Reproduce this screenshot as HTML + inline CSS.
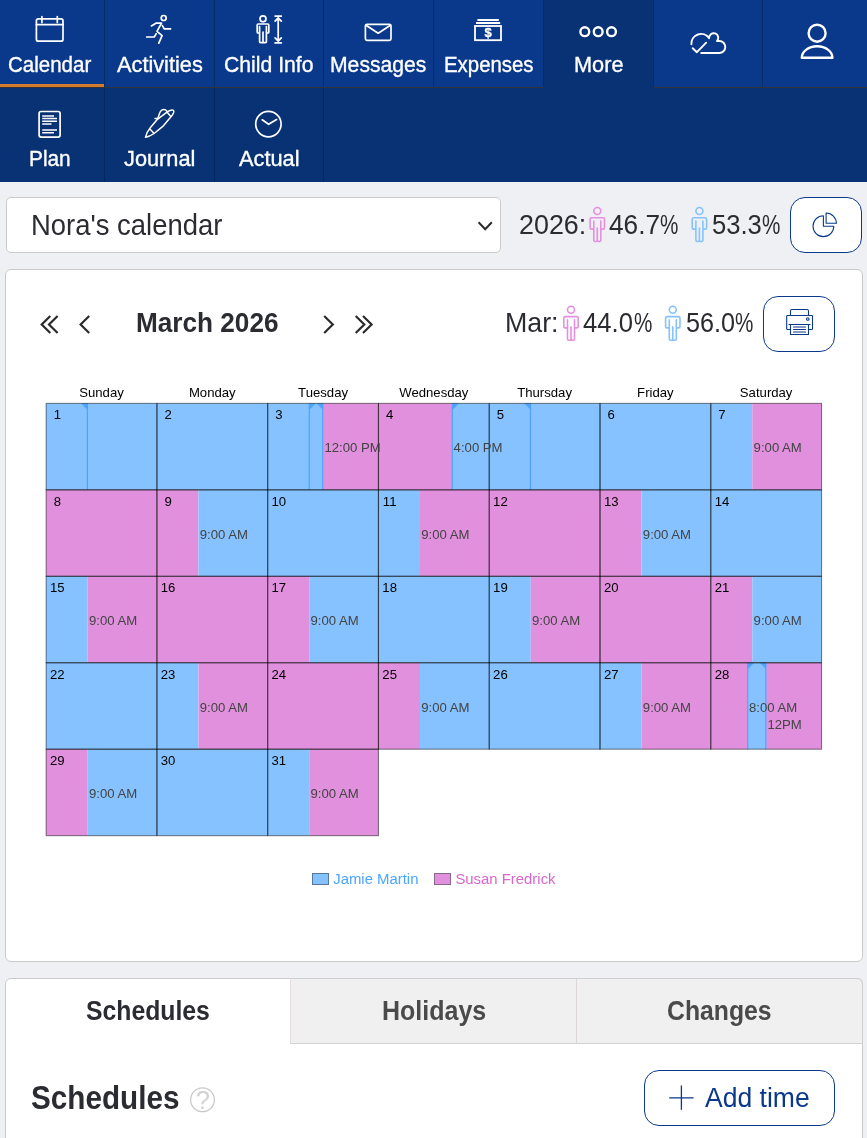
<!DOCTYPE html>
<html lang="en"><head><meta charset="utf-8"><meta name="viewport" content="width=867"><title>Nora's calendar - March 2026</title>
<style>
*{box-sizing:border-box;margin:0;padding:0}
html,body{width:867px;height:1138px;overflow:hidden;background:#eff0f3;font-family:"Liberation Sans", sans-serif}
body{position:relative}
.tx{position:absolute;white-space:nowrap;line-height:1;transform-origin:0 0;margin:0;display:block}
.abs{position:absolute}
#nav1{left:0;top:0;width:867px;height:88px;background:#0a398c;border-bottom:1px solid #333}
#nav2{left:0;top:88px;width:867px;height:94px;background:#083273}
.more{left:544px;top:0;width:109px;height:88px;background:#083273}
.vb{position:absolute;width:1px;background:#062b69}
#act{left:0;top:84px;width:104px;height:3px;background:#d37c2f}
#sel{left:6px;top:197px;width:495px;height:56px;background:#fff;border:1px solid #cbcbcb;border-radius:5px}
.btn{background:#fff;border:1px solid #0a398c;border-radius:15px;appearance:none;-webkit-appearance:none;outline:0;font:inherit}
.card{background:#fff;border:1px solid #cbcbcb;border-radius:6px}
#tabbar{left:290px;top:978px;width:573px;height:66px;background:#f0f0f0;border:1px solid #d2d2d2;border-left-color:#e4dce0;border-top-right-radius:6px;border-top-color:#cfcfcf;border-right-color:#cfcfcf}
#tabsep{left:576px;top:979px;width:1px;height:64px;background:#dcd6da}
</style></head>
<body>
<nav aria-label="Main navigation">
<div class="abs" id="nav1"></div>
<div class="abs" id="nav2"></div>
<div class="abs more"></div>
<div class="vb" style="left:104px;top:0;height:87px"></div><div class="vb" style="left:214px;top:0;height:87px"></div><div class="vb" style="left:323px;top:0;height:87px"></div><div class="vb" style="left:433px;top:0;height:87px"></div><div class="vb" style="left:543px;top:0;height:87px"></div><div class="vb" style="left:653px;top:0;height:87px"></div><div class="vb" style="left:762px;top:0;height:87px"></div><div class="vb" style="left:104px;top:88px;height:94px;background:#05275f"></div><div class="vb" style="left:214px;top:88px;height:94px;background:#05275f"></div><div class="vb" style="left:323px;top:88px;height:94px;background:#05275f"></div>
<div class="abs" id="act"></div>
<span class="tx" id="n1" style="left:7.83px;top:55.24px;font-size:21.33px;font-weight:400;color:#fff;transform:scaleX(0.9618);-webkit-text-stroke:0.35px currentColor">Calendar</span>
<span class="tx" id="n2" style="left:116.55px;top:55.24px;font-size:21.33px;font-weight:400;color:#fff;transform:scaleX(1.0196);-webkit-text-stroke:0.35px currentColor">Activities</span>
<span class="tx" id="n3" style="left:224.44px;top:55.24px;font-size:21.33px;font-weight:400;color:#fff;transform:scaleX(0.9929);-webkit-text-stroke:0.35px currentColor">Child Info</span>
<span class="tx" id="n4" style="left:330.23px;top:55.24px;font-size:21.33px;font-weight:400;color:#fff;transform:scaleX(0.9915);-webkit-text-stroke:0.35px currentColor">Messages</span>
<span class="tx" id="n5" style="left:444.03px;top:55.24px;font-size:21.33px;font-weight:400;color:#fff;transform:scaleX(0.9563);-webkit-text-stroke:0.35px currentColor">Expenses</span>
<span class="tx" id="n6" style="left:573.65px;top:55.24px;font-size:21.33px;font-weight:400;color:#fff;transform:scaleX(1.0185);-webkit-text-stroke:0.35px currentColor">More</span>
<span class="tx" id="n7" style="left:29.25px;top:148.84px;font-size:21.33px;font-weight:400;color:#fff;transform:scaleX(0.9764);-webkit-text-stroke:0.35px currentColor">Plan</span>
<span class="tx" id="n8" style="left:124.40px;top:148.84px;font-size:21.33px;font-weight:400;color:#fff;transform:scaleX(1.0198);-webkit-text-stroke:0.35px currentColor">Journal</span>
<span class="tx" id="n9" style="left:238.71px;top:148.84px;font-size:21.33px;font-weight:400;color:#fff;transform:scaleX(1.0216);-webkit-text-stroke:0.35px currentColor">Actual</span>
</nav>
<main>
<section aria-label="Calendar selection">
<div class="abs" id="sel"></div>
<button type="button" class="abs btn" aria-label="Statistics" style="left:790px;top:197px;width:72px;height:56px"></button>
<span class="tx" id="s1" style="left:30.87px;top:211.45px;font-size:29px;font-weight:400;color:#2b2c31;transform:scaleX(0.9465)">Nora's calendar</span>
<span class="tx" id="y1" style="left:518.65px;top:210.72px;font-size:27.5px;font-weight:400;color:#2b2c31;transform:scaleX(0.9775)">2026:</span>
<span class="tx" id="y2" style="left:608.88px;top:210.72px;font-size:27.5px;font-weight:400;color:#2b2c31;transform:scaleX(0.9553)">46.7</span>
<span class="tx" id="y2p" style="left:660.35px;top:210.72px;font-size:27.5px;font-weight:400;color:#2b2c31;transform:scaleX(0.7511)">%</span>
<span class="tx" id="y3" style="left:711.64px;top:210.72px;font-size:27.5px;font-weight:400;color:#2b2c31;transform:scaleX(0.9314)">53.3</span>
<span class="tx" id="y3p" style="left:761.55px;top:210.72px;font-size:27.5px;font-weight:400;color:#2b2c31;transform:scaleX(0.7511)">%</span>
</section>
<section aria-label="Calendar">
<div class="abs card" style="left:5px;top:269px;width:858px;height:693px"></div>
<button type="button" class="abs btn" aria-label="Print" style="left:763px;top:296px;width:72px;height:56px"></button>
<h1 class="tx" id="m0" style="left:135.71px;top:308.72px;font-size:27.5px;font-weight:700;color:#2b2c31;transform:scaleX(0.9510)">March 2026</h1>
<span class="tx" id="m1" style="left:505.27px;top:308.72px;font-size:27.5px;font-weight:400;color:#2b2c31;transform:scaleX(0.9736)">Mar:</span>
<span class="tx" id="m2" style="left:583.20px;top:308.72px;font-size:27.5px;font-weight:400;color:#2b2c31;transform:scaleX(0.9333)">44.0</span>
<span class="tx" id="m2p" style="left:633.75px;top:308.72px;font-size:27.5px;font-weight:400;color:#2b2c31;transform:scaleX(0.7511)">%</span>
<span class="tx" id="m3" style="left:685.65px;top:308.72px;font-size:27.5px;font-weight:400;color:#2b2c31;transform:scaleX(0.9171)">56.0</span>
<span class="tx" id="m3p" style="left:735.35px;top:308.72px;font-size:27.5px;font-weight:400;color:#2b2c31;transform:scaleX(0.7511)">%</span>
<svg id="cal" width="867" height="1138" viewBox="0 0 867 1138" style="position:absolute;left:0;top:0" font-family='"Liberation Sans", sans-serif' font-size="13.15">
<g><rect x="46.15" y="403.40" width="110.77" height="86.45" fill="#85c2ff"/><rect x="156.92" y="403.40" width="110.77" height="86.45" fill="#85c2ff"/><rect x="267.69" y="403.40" width="55.38" height="86.45" fill="#85c2ff"/><rect x="323.07" y="403.40" width="55.38" height="86.45" fill="#e090dc"/><rect x="378.46" y="403.40" width="73.85" height="86.45" fill="#e090dc"/><rect x="452.31" y="403.40" width="36.92" height="86.45" fill="#85c2ff"/><rect x="489.23" y="403.40" width="110.77" height="86.45" fill="#85c2ff"/><rect x="600.00" y="403.40" width="110.77" height="86.45" fill="#85c2ff"/><rect x="710.77" y="403.40" width="41.54" height="86.45" fill="#85c2ff"/><rect x="752.31" y="403.40" width="69.23" height="86.45" fill="#e090dc"/><rect x="46.15" y="489.85" width="110.77" height="86.45" fill="#e090dc"/><rect x="156.92" y="489.85" width="41.54" height="86.45" fill="#e090dc"/><rect x="198.46" y="489.85" width="69.23" height="86.45" fill="#85c2ff"/><rect x="267.69" y="489.85" width="110.77" height="86.45" fill="#85c2ff"/><rect x="378.46" y="489.85" width="41.54" height="86.45" fill="#85c2ff"/><rect x="420.00" y="489.85" width="69.23" height="86.45" fill="#e090dc"/><rect x="489.23" y="489.85" width="110.77" height="86.45" fill="#e090dc"/><rect x="600.00" y="489.85" width="41.54" height="86.45" fill="#e090dc"/><rect x="641.54" y="489.85" width="69.23" height="86.45" fill="#85c2ff"/><rect x="710.77" y="489.85" width="110.77" height="86.45" fill="#85c2ff"/><rect x="46.15" y="576.30" width="41.54" height="86.45" fill="#85c2ff"/><rect x="87.69" y="576.30" width="69.23" height="86.45" fill="#e090dc"/><rect x="156.92" y="576.30" width="110.77" height="86.45" fill="#e090dc"/><rect x="267.69" y="576.30" width="41.54" height="86.45" fill="#e090dc"/><rect x="309.23" y="576.30" width="69.23" height="86.45" fill="#85c2ff"/><rect x="378.46" y="576.30" width="110.77" height="86.45" fill="#85c2ff"/><rect x="489.23" y="576.30" width="41.54" height="86.45" fill="#85c2ff"/><rect x="530.77" y="576.30" width="69.23" height="86.45" fill="#e090dc"/><rect x="600.00" y="576.30" width="110.77" height="86.45" fill="#e090dc"/><rect x="710.77" y="576.30" width="41.54" height="86.45" fill="#e090dc"/><rect x="752.31" y="576.30" width="69.23" height="86.45" fill="#85c2ff"/><rect x="46.15" y="662.75" width="110.77" height="86.45" fill="#85c2ff"/><rect x="156.92" y="662.75" width="41.54" height="86.45" fill="#85c2ff"/><rect x="198.46" y="662.75" width="69.23" height="86.45" fill="#e090dc"/><rect x="267.69" y="662.75" width="110.77" height="86.45" fill="#e090dc"/><rect x="378.46" y="662.75" width="41.54" height="86.45" fill="#e090dc"/><rect x="420.00" y="662.75" width="69.23" height="86.45" fill="#85c2ff"/><rect x="489.23" y="662.75" width="110.77" height="86.45" fill="#85c2ff"/><rect x="600.00" y="662.75" width="41.54" height="86.45" fill="#85c2ff"/><rect x="641.54" y="662.75" width="69.23" height="86.45" fill="#e090dc"/><rect x="710.77" y="662.75" width="36.92" height="86.45" fill="#e090dc"/><rect x="747.69" y="662.75" width="18.46" height="86.45" fill="#85c2ff"/><rect x="766.15" y="662.75" width="55.38" height="86.45" fill="#e090dc"/><rect x="46.15" y="749.20" width="41.54" height="86.45" fill="#e090dc"/><rect x="87.69" y="749.20" width="69.23" height="86.45" fill="#85c2ff"/><rect x="156.92" y="749.20" width="110.77" height="86.45" fill="#85c2ff"/><rect x="267.69" y="749.20" width="41.54" height="86.45" fill="#85c2ff"/><rect x="309.23" y="749.20" width="69.23" height="86.45" fill="#e090dc"/></g>
<g><path d="M87.69 403.40h-6.5l6.5 6.5z" fill="#4da3ff"/><rect x="86.79" y="403.40" width="1.2" height="86.45" fill="#4da3ff"/><path d="M309.23 403.40h6.5l-6.5 6.5z" fill="#4da3ff"/><rect x="308.63" y="403.40" width="1.2" height="86.45" fill="#4da3ff"/><path d="M323.07 403.40h-6.5l6.5 6.5z" fill="#4da3ff"/><rect x="322.18" y="403.40" width="1.2" height="86.45" fill="#4da3ff"/><path d="M452.31 403.40h6.5l-6.5 6.5z" fill="#4da3ff"/><rect x="451.71" y="403.40" width="1.2" height="86.45" fill="#4da3ff"/><path d="M530.77 403.40h-6.5l6.5 6.5z" fill="#4da3ff"/><rect x="529.87" y="403.40" width="1.2" height="86.45" fill="#4da3ff"/><path d="M747.69 662.75h6.5l-6.5 6.5z" fill="#4da3ff"/><rect x="747.09" y="662.75" width="1.2" height="86.45" fill="#4da3ff"/><path d="M766.15 662.75h-6.5l6.5 6.5z" fill="#4da3ff"/><rect x="765.25" y="662.75" width="1.2" height="86.45" fill="#4da3ff"/></g>
<g fill="none" stroke="#000" stroke-opacity="0.47" stroke-width="1.1"><rect x="46.15" y="403.40" width="110.77" height="86.45"/><rect x="156.92" y="403.40" width="110.77" height="86.45"/><rect x="267.69" y="403.40" width="110.77" height="86.45"/><rect x="378.46" y="403.40" width="110.77" height="86.45"/><rect x="489.23" y="403.40" width="110.77" height="86.45"/><rect x="600.00" y="403.40" width="110.77" height="86.45"/><rect x="710.77" y="403.40" width="110.77" height="86.45"/><rect x="46.15" y="489.85" width="110.77" height="86.45"/><rect x="156.92" y="489.85" width="110.77" height="86.45"/><rect x="267.69" y="489.85" width="110.77" height="86.45"/><rect x="378.46" y="489.85" width="110.77" height="86.45"/><rect x="489.23" y="489.85" width="110.77" height="86.45"/><rect x="600.00" y="489.85" width="110.77" height="86.45"/><rect x="710.77" y="489.85" width="110.77" height="86.45"/><rect x="46.15" y="576.30" width="110.77" height="86.45"/><rect x="156.92" y="576.30" width="110.77" height="86.45"/><rect x="267.69" y="576.30" width="110.77" height="86.45"/><rect x="378.46" y="576.30" width="110.77" height="86.45"/><rect x="489.23" y="576.30" width="110.77" height="86.45"/><rect x="600.00" y="576.30" width="110.77" height="86.45"/><rect x="710.77" y="576.30" width="110.77" height="86.45"/><rect x="46.15" y="662.75" width="110.77" height="86.45"/><rect x="156.92" y="662.75" width="110.77" height="86.45"/><rect x="267.69" y="662.75" width="110.77" height="86.45"/><rect x="378.46" y="662.75" width="110.77" height="86.45"/><rect x="489.23" y="662.75" width="110.77" height="86.45"/><rect x="600.00" y="662.75" width="110.77" height="86.45"/><rect x="710.77" y="662.75" width="110.77" height="86.45"/><rect x="46.15" y="749.20" width="110.77" height="86.45"/><rect x="156.92" y="749.20" width="110.77" height="86.45"/><rect x="267.69" y="749.20" width="110.77" height="86.45"/></g>
<g><text x="57.35" y="419" fill="#000" text-anchor="middle">1</text><text x="168.12" y="419" fill="#000" text-anchor="middle">2</text><text x="278.89" y="419" fill="#000" text-anchor="middle">3</text><text x="324.38" y="452" fill="#444">12:00 PM</text><text x="389.66" y="419" fill="#000" text-anchor="middle">4</text><text x="453.61" y="452" fill="#444">4:00 PM</text><text x="500.43" y="419" fill="#000" text-anchor="middle">5</text><text x="611.20" y="419" fill="#000" text-anchor="middle">6</text><text x="721.97" y="419" fill="#000" text-anchor="middle">7</text><text x="753.61" y="452" fill="#444">9:00 AM</text><text x="57.35" y="506" fill="#000" text-anchor="middle">8</text><text x="168.12" y="506" fill="#000" text-anchor="middle">9</text><text x="199.76" y="539" fill="#444">9:00 AM</text><text x="278.89" y="506" fill="#000" text-anchor="middle">10</text><text x="389.66" y="506" fill="#000" text-anchor="middle">11</text><text x="421.30" y="539" fill="#444">9:00 AM</text><text x="500.43" y="506" fill="#000" text-anchor="middle">12</text><text x="611.20" y="506" fill="#000" text-anchor="middle">13</text><text x="642.84" y="539" fill="#444">9:00 AM</text><text x="721.97" y="506" fill="#000" text-anchor="middle">14</text><text x="57.35" y="592" fill="#000" text-anchor="middle">15</text><text x="88.99" y="625" fill="#444">9:00 AM</text><text x="168.12" y="592" fill="#000" text-anchor="middle">16</text><text x="278.89" y="592" fill="#000" text-anchor="middle">17</text><text x="310.53" y="625" fill="#444">9:00 AM</text><text x="389.66" y="592" fill="#000" text-anchor="middle">18</text><text x="500.43" y="592" fill="#000" text-anchor="middle">19</text><text x="532.07" y="625" fill="#444">9:00 AM</text><text x="611.20" y="592" fill="#000" text-anchor="middle">20</text><text x="721.97" y="592" fill="#000" text-anchor="middle">21</text><text x="753.61" y="625" fill="#444">9:00 AM</text><text x="57.35" y="679" fill="#000" text-anchor="middle">22</text><text x="168.12" y="679" fill="#000" text-anchor="middle">23</text><text x="199.76" y="712" fill="#444">9:00 AM</text><text x="278.89" y="679" fill="#000" text-anchor="middle">24</text><text x="389.66" y="679" fill="#000" text-anchor="middle">25</text><text x="421.30" y="712" fill="#444">9:00 AM</text><text x="500.43" y="679" fill="#000" text-anchor="middle">26</text><text x="611.20" y="679" fill="#000" text-anchor="middle">27</text><text x="642.84" y="712" fill="#444">9:00 AM</text><text x="721.97" y="679" fill="#000" text-anchor="middle">28</text><text x="748.99" y="712" fill="#444">8:00 AM</text><text x="767.45" y="729" fill="#444">12PM</text><text x="57.35" y="765" fill="#000" text-anchor="middle">29</text><text x="88.99" y="798" fill="#444">9:00 AM</text><text x="168.12" y="765" fill="#000" text-anchor="middle">30</text><text x="278.89" y="765" fill="#000" text-anchor="middle">31</text><text x="310.53" y="798" fill="#444">9:00 AM</text><text x="101.53" y="396.8" text-anchor="middle" fill="#000">Sunday</text><text x="212.31" y="396.8" text-anchor="middle" fill="#000">Monday</text><text x="323.07" y="396.8" text-anchor="middle" fill="#000">Tuesday</text><text x="433.84" y="396.8" text-anchor="middle" fill="#000">Wednesday</text><text x="544.62" y="396.8" text-anchor="middle" fill="#000">Thursday</text><text x="655.38" y="396.8" text-anchor="middle" fill="#000">Friday</text><text x="766.15" y="396.8" text-anchor="middle" fill="#000">Saturday</text></g>
<g shape-rendering="crispEdges"><rect x="312.5" y="873.5" width="16" height="11" rx="1" fill="#85c2ff" stroke="#58779a" stroke-width="1"/>
<rect x="434.5" y="873.5" width="16" height="11" rx="1" fill="#e090dc" stroke="#8a6a8c" stroke-width="1"/></g>
<text x="333.2" y="884" font-size="14.9" fill="#4da6ff">Jamie Martin</text>
<text x="455.4" y="884" font-size="14.9" fill="#d966cf">Susan Fredrick</text>
</svg>
</section>
<section aria-label="Schedules">
<div class="abs card" style="left:5px;top:978px;width:858px;height:200px"></div>
<div class="abs" id="tabbar"></div>
<div class="abs" id="tabsep"></div>
<button type="button" class="abs btn" aria-label="Add time" style="left:644px;top:1070px;width:191px;height:56px"></button>
<span class="tx" id="t1" style="left:85.87px;top:996.72px;font-size:27.5px;font-weight:700;color:#2b2c31;transform:scaleX(0.9001)">Schedules</span>
<span class="tx" id="t2" style="left:381.60px;top:996.72px;font-size:27.5px;font-weight:700;color:#4a4a4a;transform:scaleX(0.9089)">Holidays</span>
<span class="tx" id="t3" style="left:666.75px;top:996.72px;font-size:27.5px;font-weight:700;color:#4a4a4a;transform:scaleX(0.9006)">Changes</span>
<h2 class="tx" id="h1" style="left:31.38px;top:1080.73px;font-size:33.4px;font-weight:700;color:#2b2c31;transform:scaleX(0.8890)">Schedules</h2>
<span class="tx" id="a1" style="left:705.12px;top:1083.72px;font-size:27.5px;font-weight:400;color:#0a398c;transform:scaleX(0.9647)">Add time</span>
</section>
</main>
<svg id="icons" width="867" height="1138" viewBox="0 0 867 1138" style="position:absolute;left:0;top:0" fill="none" stroke-linecap="round" stroke-linejoin="round">
<!-- nav row 1 -->
<g stroke="#fff" stroke-width="1.7">
  <!-- calendar -->
  <rect x="36.4" y="18.8" width="26.6" height="22.4" rx="2"/>
  <path d="M36.4 24.6H63M41.9 16.6v5.8M57.3 16.6v5.8"/>
  <!-- runner -->
  <circle cx="163.7" cy="18" r="2.5"/>
  <path d="M151.4 25.9l4.5-2.7h5.6l-4.5 8.2 5.1 4.3-3.3 7.4M162.4 25.6l1.8 3.2h6.4M156.2 33.8l-2 3.2h-7.5"/>
  <!-- child info -->
  <circle cx="263" cy="18.8" r="3"/>
  <path d="M259.6 33h-1.4a1 1 0 0 1-1-1v-7a1 1 0 0 1 1-1h9.6a1 1 0 0 1 1 1v7a1 1 0 0 1-1 1h-1.4M259.6 26.6v15.2a.9.9 0 0 0 .9.9h1.6a.9.9 0 0 0 .9-.9v-9.8M266.4 26.6v15.2a.9.9 0 0 1-.9.9h-1.6a.9.9 0 0 1-.9-.9"/>
  <path d="M275.1 16.1h6.2M275.1 42.9h6.2M278.2 17.9v23.2M275.1 21.2l3.1-3.3 3.1 3.3M275.1 37.8l3.1 3.3 3.1-3.3"/>
  <!-- envelope -->
  <rect x="365.4" y="24.3" width="25.6" height="16" rx="1.6"/>
  <path d="M366 25.2l12.2 8 12.2-8"/>
  <!-- expenses -->
  <g stroke-width="1.8" stroke-linecap="butt" stroke-linejoin="miter">
  <path d="M477.4 20h21.4M476 23h24.2"/>
  <rect x="475" y="26" width="26" height="14.2"/>
  </g>
  <!-- more -->
  <g stroke-width="2.4">
  <circle cx="584.8" cy="31.7" r="4.4"/><circle cx="598.2" cy="31.7" r="4.4"/><circle cx="611.5" cy="31.7" r="4.4"/>
  </g>
  <!-- cloud -->
  <path stroke-width="1.9" d="M691.4 44.3A9.7 9.7 0 0 1 709.1 38.2A4.6 4.6 0 1 1 717 41H719.3A6 6 0 0 1 719.3 53H701.2M692.7 48.2l4.2 4 9.3-9.5"/>
  <!-- user -->
  <g stroke-width="2.4">
  <circle cx="817.1" cy="33.2" r="8.5"/>
  <path d="M801.8 57.8a15.3 11.6 0 0 1 30.6 0z"/>
  </g>
</g>
<text x="488.2" y="37.4" font-family='"Liberation Sans", sans-serif' font-size="13" font-weight="700" fill="#fff" text-anchor="middle" stroke="#fff" stroke-width="0.3">$</text>
<!-- nav row 2 -->
<g stroke="#fff" stroke-width="1.7">
  <rect x="39.1" y="111.5" width="21" height="25.6" rx="2"/>
  <g stroke-width="1.5" stroke-linecap="butt"><path d="M42.2 115.9H54M42.2 118.6H57M42.2 121.3H57M42.2 124H51.5M42.2 129.9H57M42.2 132.7H54"/></g>
  <!-- pen -->
  <g stroke-width="1.5">
  <path d="M145.5 137.3C146.2 134 147.8 130.8 150.3 127.8L157.4 119.3L167.3 111.9C169.6 110.4 172.3 109.7 173.5 110.4C174.2 111.6 173.3 113.9 171.6 116.1L162.8 126.4L154.1 133.5C151 135.6 148.6 136.8 145.5 137.3Z"/>
  <path d="M150.4 129.6l3 3.2M167.2 112.2l3.4 4M155 118.6h2.8l1.6-4.8c.8-2.4 2.8-4.2 4.4-4.2c1.2 0 2.4.6 3 1.6"/>
  </g>
  <!-- clock -->
  <circle cx="268.4" cy="124.1" r="12.7"/>
  <path d="M262.2 119.8l6.4 4.5 8-4.7"/>
</g>
<!-- chevrons -->
<g stroke="#2b2b2b" stroke-width="2.2" stroke-linecap="butt" stroke-linejoin="miter">
  <path d="M478.6 222.3l6.6 6.9 6.6-6.9" stroke-width="2"/>
  <path d="M50.3 316l-8.6 8.5 8.6 8.5M57.6 316l-8.6 8.5 8.6 8.5M89.2 316l-8.6 8.5 8.6 8.5"/>
  <path d="M324.2 316l8.6 8.5-8.6 8.5M355.7 316l8.6 8.5-8.6 8.5M363 316l8.6 8.5-8.6 8.5"/>
</g>
<!-- person icons -->
<g transform="translate(597.3 217.1)" stroke="#e58fdf" stroke-width="1.6"><circle cx="0" cy="-6.1" r="3.5"/><path d="M-3.5 12h-2.3a1.4 1.4 0 0 1-1.4-1.4v-8.3a1.6 1.6 0 0 1 1.6-1.6h11.2a1.6 1.6 0 0 1 1.6 1.6v8.3a1.4 1.4 0 0 1-1.4 1.4h-2.3M-3.5 4v19.2a1.2 1.2 0 0 0 1.2 1.2h1.1a1.2 1.2 0 0 0 1.2-1.2v-12.2M3.5 4v19.2a1.2 1.2 0 0 1-1.2 1.2h-1.1a1.2 1.2 0 0 1-1.2-1.2"/></g>
<g transform="translate(699.4 217.1)" stroke="#85c2ff" stroke-width="1.6"><circle cx="0" cy="-6.1" r="3.5"/><path d="M-3.5 12h-2.3a1.4 1.4 0 0 1-1.4-1.4v-8.3a1.6 1.6 0 0 1 1.6-1.6h11.2a1.6 1.6 0 0 1 1.6 1.6v8.3a1.4 1.4 0 0 1-1.4 1.4h-2.3M-3.5 4v19.2a1.2 1.2 0 0 0 1.2 1.2h1.1a1.2 1.2 0 0 0 1.2-1.2v-12.2M3.5 4v19.2a1.2 1.2 0 0 1-1.2 1.2h-1.1a1.2 1.2 0 0 1-1.2-1.2"/></g>
<g transform="translate(571 315.9)" stroke="#e58fdf" stroke-width="1.6"><circle cx="0" cy="-6.1" r="3.5"/><path d="M-3.5 12h-2.3a1.4 1.4 0 0 1-1.4-1.4v-8.3a1.6 1.6 0 0 1 1.6-1.6h11.2a1.6 1.6 0 0 1 1.6 1.6v8.3a1.4 1.4 0 0 1-1.4 1.4h-2.3M-3.5 4v19.2a1.2 1.2 0 0 0 1.2 1.2h1.1a1.2 1.2 0 0 0 1.2-1.2v-12.2M3.5 4v19.2a1.2 1.2 0 0 1-1.2 1.2h-1.1a1.2 1.2 0 0 1-1.2-1.2"/></g>
<g transform="translate(672.8 315.9)" stroke="#85c2ff" stroke-width="1.6"><circle cx="0" cy="-6.1" r="3.5"/><path d="M-3.5 12h-2.3a1.4 1.4 0 0 1-1.4-1.4v-8.3a1.6 1.6 0 0 1 1.6-1.6h11.2a1.6 1.6 0 0 1 1.6 1.6v8.3a1.4 1.4 0 0 1-1.4 1.4h-2.3M-3.5 4v19.2a1.2 1.2 0 0 0 1.2 1.2h1.1a1.2 1.2 0 0 0 1.2-1.2v-12.2M3.5 4v19.2a1.2 1.2 0 0 1-1.2 1.2h-1.1a1.2 1.2 0 0 1-1.2-1.2"/></g>
<!-- pie -->
<g stroke="#0a398c" stroke-width="1.1">
  <path d="M823.4 215.8a10.4 10.4 0 1 0 10.4 10.4h-10.4z"/>
  <path d="M826.1 213a10.3 10.3 0 0 1 10.3 10.3h-10.3z"/>
  <!-- printer -->
  <path d="M790.5 315.5v-4.6a1.4 1.4 0 0 1 1.4-1.4h15.2a1.4 1.4 0 0 1 1.4 1.4v4.6"/>
  <path d="M790.5 329.5h-3a.8.8 0 0 1-.8-.8v-12.4a.8.8 0 0 1 .8-.8h24.2a.8.8 0 0 1 .8.8v12.4a.8.8 0 0 1-.8.8h-3.2"/>
  <path d="M789 324.5h21M790.5 324.5v10h18v-10M793.5 327h12M793.5 329.5h12M793.5 332h12"/>
  <circle cx="807.8" cy="319" r="1.3"/>
  <!-- plus -->
  <path d="M669.2 1097.8h24.4M681.4 1085.6v24.2" stroke-width="1.3" stroke-linecap="butt"/>
</g>
<!-- help -->
<circle cx="202.5" cy="1099.8" r="11.9" stroke="#c9c9c9" stroke-width="1.3"/>
<text x="202.9" y="1109.4" font-family='"Liberation Sans", sans-serif' font-size="25.5" fill="#d2d2d2" text-anchor="middle" stroke="none">?</text>
</svg>

</body></html>
